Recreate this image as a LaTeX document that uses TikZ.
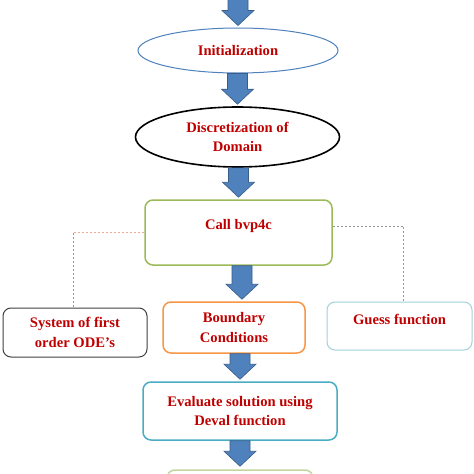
\documentclass[tikz,border=0pt]{standalone}
\usepackage{fontspec}
\setmainfont{Liberation Serif}
\usetikzlibrary{shapes.geometric,calc}
\definecolor{txtred}{RGB}{192,0,0}
\definecolor{initblue}{RGB}{79,129,189}
\definecolor{callgreen}{RGB}{155,187,89}
\definecolor{odegray}{RGB}{64,64,64}
\definecolor{bcorange}{RGB}{247,150,70}
\definecolor{guessteal}{RGB}{160,210,222}
\definecolor{evalteal}{RGB}{75,172,198}
\definecolor{lastgreen}{RGB}{195,214,155}
\definecolor{arrowblue}{RGB}{79,129,189}
\definecolor{arrowdark}{RGB}{56,93,138}
\definecolor{salmon}{RGB}{230,170,150}
\definecolor{dotgray}{RGB}{150,150,150}
\tikzset{
  txt/.style={text=txtred, font=\fontsize{14.6}{19.5}\selectfont\bfseries, align=center},
  ell/.style={ellipse, txt, inner sep=0pt, fill=white},
  box/.style={rectangle, rounded corners=8pt, txt, inner sep=0pt, line width=1.5pt, fill=white},
  arrowfill/.style={fill=arrowblue, draw=arrowdark, line width=0.6pt, line join=miter},
  dashline/.style={line width=0.8pt, dash pattern=on 2pt off 2pt},
}
\newcommand\bluearrow[2]{%
  \filldraw[arrowfill] let \p1=(#1), \p2=(#2) in
    (\x2-10pt,\y1) -- (\x2+10pt,\y1) -- (\x2+10pt,\y2+15pt) -- (\x2+16pt,\y2+15pt)
    -- (\x2,\y2) -- (\x2-16pt,\y2+15pt) -- (\x2-10pt,\y2+15pt) -- cycle;}
\begin{document}
\begin{tikzpicture}[x=1pt,y=-1pt]
\useasboundingbox (0,0) rectangle (474,474);
\clip (0,0) rectangle (474,474);
\fill[white] (0,0) rectangle (474,474);
\coordinate (top) at (237,-2);
\node[ell, draw=initblue, line width=1pt, minimum width=200pt, minimum height=45pt] (init) at (238,50.5) {Initialization};
\node[ell, draw=black, line width=1.6pt, minimum width=204pt, minimum height=60pt] (disc) at (237.5,137) {Discretization of\\Domain};
\node[box, draw=callgreen, minimum width=187pt, minimum height=65pt] (call) at (238.5,232.5) {};
\node[txt] (calltxt) at ([yshift=-27pt]call.north) {Call bvp4c};
\node[box, draw=odegray, line width=1pt, minimum width=144pt, minimum height=49pt] (ode) at (75,332.5) {System of first\\order ODE’s};
\node[box, draw=bcorange, minimum width=142pt, minimum height=51pt] (bc) at (234,327.5) {Boundary\\Conditions};
\node[box, draw=guessteal, line width=1pt, minimum width=145pt, minimum height=48pt] (guess) at (399.5,326) {};
\node[txt] (guesstxt) at ([yshift=-18pt]guess.north) {Guess function};
\node[box, draw=evalteal, minimum width=194pt, minimum height=58pt] (eval) at (240,411) {Evaluate solution using\\Deval function};
\node[box, draw=lastgreen, minimum width=146pt, minimum height=40pt] (last) at (240,490) {};
% dotted connectors
\coordinate (lc) at ([xshift=-2pt]ode.north |- call.west);
\draw[dashline, salmon] (call.west) -- (lc);
\draw[dashline, dotgray] (lc) -- ([xshift=-2pt]ode.north);
\coordinate (ce) at ([yshift=6.5pt]call.east);
\coordinate (gn) at ([xshift=4pt]guess.north);
\coordinate (rc) at (gn |- ce);
\draw[dashline, dotgray] (ce) -- (rc) -- (gn);
% block arrows
\bluearrow{top}{[yshift=2pt]init.north}
\bluearrow{init.south}{[yshift=2pt]disc.north}
\bluearrow{disc.south}{[yshift=2pt]call.north}
\bluearrow{call.south}{[xshift=8pt,yshift=2pt]bc.north}
\bluearrow{bc.south}{[yshift=2pt]eval.north}
\bluearrow{eval.south}{[yshift=3pt]last.north}
\end{tikzpicture}
\end{document}
